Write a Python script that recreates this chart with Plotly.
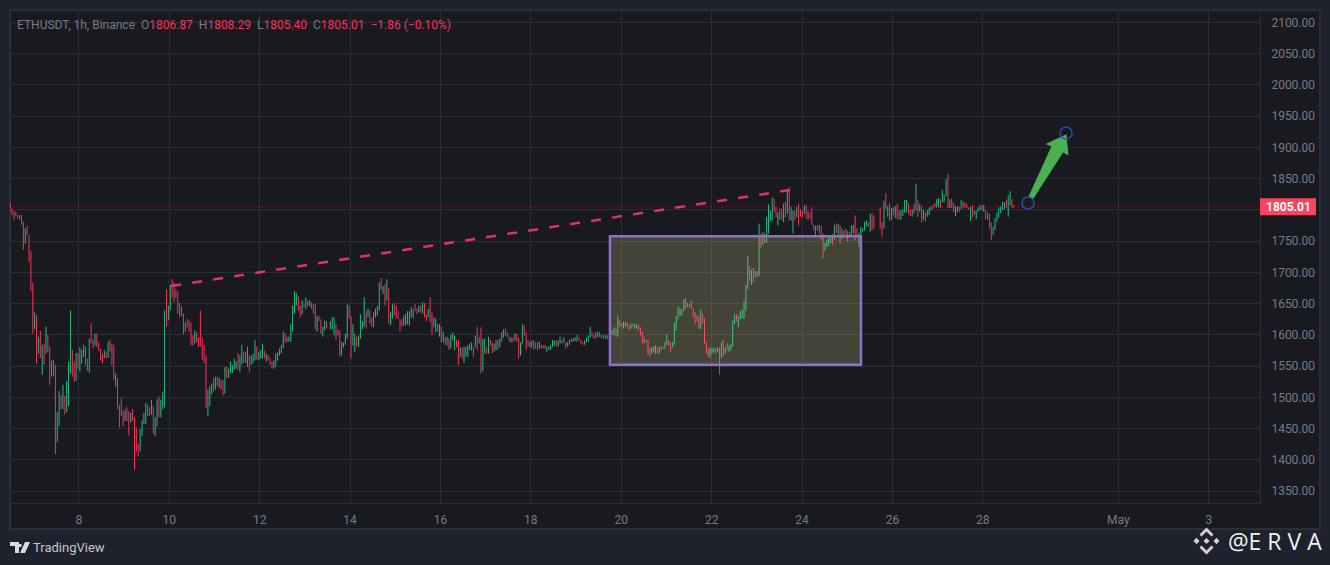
import pandas as pd
import plotly.graph_objects as go

# ---- price data (hourly bars, four stretches) ----
start_a = "2025-04-06 11:30"
highs_a = [1813,1802,1798,1797,1792,1792,1792,1781,1771,1775,
1760,1734,1684,1636,1631,1597,1607,1584,1586,1613,
1600,1581,1559,1560,1552,1476,1510,1504,1520,1502,
1526,1557,1639,1576,1557,1571,1571,1580,1576,1584,
1581,1562,1594,1618,1592,1602,1602,1588,1578,1570,
1575,1573,1589,1592,1586,1584,1538,1531,1488,1499,
1478,1481,1484,1478,1475,1481,1468,1452,1425,1449,
1463,1475,1491,1488,1484,1496,1486,1468,1497,1501,
1496,1509,1639,1673,1647,1680,1689,1684,1673,1670,
1651,1646,1634,1620,1626,1623,1620,1599,1607,1605,
1596,1639,1596,1584,1567,1512,1518,1522,1531,1533,
1533,1531,1528,1528,1548,1549,1546,1557,1552,1562,
1557,1571,1567,1584,1573,1573,1581,1567,1567,1570,
1591,1581,1572,1575,1586,1575,1570,1568,1563,1557,
1559,1570,1572,1578,1584,1605,1602,1597,1597,1617,
1647,1670,1667,1662,1647,1655,1650,1660,1655,1655,
1652,1649,1649,1630,1630,1625,1613,1623,1622]
lows_a = [1797,1792,1784,1790,1786,1784,1776,1736,1746,1759,
1717,1670,1602,1609,1554,1570,1563,1536,1552,1570,
1572,1520,1533,1534,1409,1428,1454,1481,1481,1473,
1476,1486,1538,1533,1525,1526,1546,1541,1554,1565,
1551,1542,1539,1586,1578,1583,1581,1575,1559,1554,
1563,1563,1563,1573,1551,1528,1517,1481,1452,1470,
1454,1462,1462,1439,1460,1462,1383,1413,1405,1413,
1438,1457,1457,1470,1470,1472,1442,1438,1454,1468,
1468,1481,1484,1613,1623,1639,1660,1652,1659,1634,
1628,1630,1601,1605,1612,1605,1583,1583,1586,1588,
1581,1581,1560,1555,1483,1470,1486,1505,1509,1512,
1518,1515,1512,1503,1506,1531,1531,1539,1539,1544,
1546,1544,1541,1552,1555,1555,1549,1541,1552,1555,
1559,1560,1560,1562,1562,1562,1557,1559,1552,1546,
1546,1549,1559,1567,1570,1579,1588,1588,1589,1589,
1605,1634,1647,1638,1628,1633,1644,1641,1646,1646,
1642,1634,1609,1605,1622,1602,1597,1607,1610]
dirs_a = ("ddddddddud" "dddudududu" "ddudduudud" "uuudduduuu" "dduddudddd" "ududdduddd"
          "dudduddddu" "uuudduduud" "uuuduudddd" "ddduddddud" "ddddduuudu"
          "dudduduuuu" "uduudduduu" "uduuududdd" "uuuuuudduu" "uuuddududu" "dddudduud")

start_b = "2025-04-13 13:30"
highs_b = [1622,1628,1628,1618,1609,1607,1589,1588,1602,1649,
1647,1630,1617,1602,1597,1599,1633,1622,1660,1638,
1642,1639,1628,1636,1642,1646,1684,1691,1678,1681,
1689,1675,1636,1649,1651,1647,1638,1625,1625,1631,
1634,1638,1638,1644,1641,1649,1642,1647,1647,1652,
1651,1633,1642,1660,1636,1628,1626,1618,1617,1613,
1605,1597,1597,1594,1600,1604,1599,1592,1592,1580,
1579,1581,1581,1583,1586,1588,1581,1599,1613,1596,
1612,1594,1594,1580,1597,1592,1588,1586,1592,1592,
1594,1604,1609,1610,1604,1597,1596,1596,1603,1601,
1596,1588,1617,1615,1604,1592,1589,1591,1591,1588,1588,
1589,1584,1584,1584,1581,1581,1584,1592,1591,1591,1591,
1597,1592,1596,1589,1588,1592,1594,1594,1596,1600,1596,
1592,1589,1591,1596,1599,1613,1605,1600,1604,1605,
1605,1600,1599,1600,1599]
lows_b = [1609,1609,1599,1592,1599,1565,1567,1580,1584,1594,
1626,1562,1583,1572,1581,1581,1594,1609,1613,1610,
1628,1618,1613,1612,1628,1631,1639,1672,1665,1647,
1655,1618,1615,1626,1631,1626,1625,1605,1613,1615,
1615,1617,1615,1628,1626,1638,1633,1636,1636,1634,
1628,1622,1628,1620,1600,1612,1604,1605,1597,1588,
1588,1584,1583,1576,1578,1591,1576,1580,1551,1565,
1562,1555,1565,1565,1575,1575,1565,1580,1575,1586,
1538,1542,1570,1570,1570,1583,1571,1573,1575,1576,
1580,1589,1596,1599,1596,1589,1588,1588,1591,1589,
1562,1567,1586,1599,1576,1582,1580,1580,1576,1578,1576,
1578,1578,1578,1578,1573,1576,1576,1581,1583,1581,1581,
1586,1586,1588,1578,1581,1584,1589,1589,1590,1589,1591,
1586,1584,1584,1588,1589,1596,1597,1594,1594,1597,
1596,1594,1594,1594,1593]
dirs_b = ("uuuddduuuu" "dduuduuuud" "udduuuudud" "uduudddddu" "uuuuuddudu"
          "ddudduudud" "ududuuuddu" "duuuuududu" "duududduud" "uuudddudud"
          "duuddduuddd" "uddduuuuudu" "ududuuuuuud" "dduuuudduu" "ddduu")

start_c = "2025-04-19 18:12"
highs_c = [1607,1607,1612,1610,1631,1623,1618,1621,1621,1620,
1615,1618,1618,1617,1617,1615,1612,1605,1597,1592,
1592,1580,1580,1581,1583,1580,1581,1581,1581,1588,
1601,1591,1588,1588,1620,1630,1646,1642,1641,1657,
1659,1651,1649,1655,1642,1636,1631,1630,1641,1634,
1626,1589,1578,1580,1578,1580,1578,1580,1580,1588,
1592,1580,1587,1583,1585,1623,1634,1633,1630,1638,
1640,1654,1680,1726,1710,1704,1707,1702,1702,1778,
1762,1765,1763,1789,1809,1799,1820,1818,1805,1796,
1802,1802,1810,1813,1833,1836,1805,1799,1799,1805,
1810,1801,1799,1807,1809,1799,1796,1804,1776,1775,
1776,1776,1775,1762,1747,1752,1759,1759,1762,1776,
1778,1778,1775,1770,1767,1770,1767,1765,1775,1776,
1791,1771,1763,1773,1771,1781,1783,1780,1794,1794,1791]
lows_c = [1594,1600,1600,1597,1597,1613,1612,1610,1613,1612,
1607,1610,1613,1609,1610,1607,1599,1586,1586,1588,
1568,1565,1570,1572,1570,1570,1570,1575,1578,1578,
1584,1583,1573,1580,1584,1607,1625,1631,1631,1638,
1641,1644,1644,1641,1628,1617,1621,1610,1609,1618,
1586,1570,1565,1563,1570,1572,1570,1572,1536,1563,
1566,1570,1576,1573,1575,1581,1617,1621,1612,1625,
1626,1626,1638,1673,1686,1680,1684,1692,1692,1694,
1739,1744,1747,1747,1762,1781,1783,1796,1788,1775,
1784,1784,1780,1788,1794,1783,1783,1762,1783,1788,
1775,1789,1788,1794,1786,1784,1786,1776,1767,1760,
1767,1762,1752,1723,1734,1741,1742,1747,1744,1752,
1763,1760,1746,1754,1757,1757,1749,1757,1759,1762,
1751,1757,1741,1759,1765,1767,1773,1773,1765,1768,1770]
dirs_c = ("uuududduud" "duduuddddu" "dduuududuu" "udduuuuuuu" "ddudddddud"
          "ddduuududu" "duduuuuduu" "uuuudududu" "duduuuuddu" "ddududuudu"
          "dddudddddu" "dddduuuudu" "dududddduu" "dduuuuududd")

start_d = "2025-04-25 17:30"
highs_d = [1804,1781,1815,1827,1806,1811,1803,1804,1806,1810,
1800,1799,1801,1816,1816,1811,1801,1801,1810,1842,
1816,1810,1806,1800,1796,1800,1804,1805,1808,1811,
1817,1819,1817,1832,1824,1849,1858,1817,1818,1811,
1806,1806,1805,1816,1813,1812,1810,1804,1805,1808,
1799,1799,1804,1808,1808,1808,1800,1796,1794,1780,
1773,1787,1796,1804,1806,1813,1812,1816,1824,1830,
1817,1808]
lows_d = [1770,1757,1770,1801,1789,1782,1784,1792,1787,1785,
1785,1784,1790,1795,1797,1793,1790,1789,1794,1799,
1789,1797,1780,1784,1781,1789,1792,1799,1801,1804,
1804,1804,1803,1812,1813,1822,1803,1803,1803,1797,
1790,1796,1797,1801,1804,1803,1803,1800,1782,1788,
1792,1785,1797,1799,1799,1797,1785,1784,1770,1752,
1760,1768,1781,1787,1795,1800,1801,1803,1789,1808,
1803,1804]
dirs_d = ("ddudududud" "duuuuddudu" "dududuuudd" "uuduuududd" "uuduudddud"
          "uuuududddd" "uuuuuuuduu" "dd")

# ---- annotation values ----
last_price = 1805.01
trend_times = ["2025-04-10 01:00", "2025-04-23 18:00"]
trend_prices = [1678, 1832]
box_times = ["2025-04-19 18:00", "2025-04-25 07:18"]
box_prices = [1552, 1758]
circle_hours = [504, 524.2]
circle_prices = [1811, 1923]
arrow_hours = [504.5, 516.7, 513.9, 524.2, 525.2, 522.6, 506.6, 504.5]
arrow_prices = [1821, 1902, 1905.5, 1920, 1888, 1893, 1818, 1821]

price_ticks = [1350,1400,1450,1500,1550,1600,1650,1700,1750,1800,1850,1900,1950,2000,2050,2100]
# the 1800.00 label sits under the last-price tag in the reference
price_labels = ["1350.00","1400.00","1450.00","1500.00","1550.00","1600.00","1650.00","1700.00","1750.00","",
                "1850.00","1900.00","1950.00","2000.00","2050.00","2100.00"]
time_ticks = ["2025-04-08","2025-04-10","2025-04-12","2025-04-14","2025-04-16","2025-04-18",
              "2025-04-20","2025-04-22","2025-04-24","2025-04-26","2025-04-28","2025-05-01","2025-05-03"]
time_labels = ["8","10","12","14","16","18","20","22","24","26","28","May","3"]
x_range = ["2025-04-06 11:24", "2025-05-04 03:12"]
y_range = [1330.8, 2120]

BG = "#1e222d"; PANEL = "#181a20"; GRID = "#2a2e39"; TXT = "#787b86"
RED = "#f7335a"; GREEN = "#1fbd85"

L, R, T, B = 10, 1260, 10, 503
def px(x): return (x - L) / (R - L)
def py(y): return (B - y) / (B - T)

times, opens, highs, lows, closes = [], [], [], [], []
for st, hi, lo, dr in [(start_a, highs_a, lows_a, dirs_a), (start_b, highs_b, lows_b, dirs_b),
                       (start_c, highs_c, lows_c, dirs_c), (start_d, highs_d, lows_d, dirs_d)]:
    dr = dr.ljust(len(hi), "u")
    ts = pd.date_range(st, periods=len(hi), freq="h")
    for t, h, l, d in zip(ts, hi, lo, dr):
        times.append(t); highs.append(h); lows.append(l)
        opens.append(l if d == "u" else h)
        closes.append(h if d == "u" else l)

base = pd.Timestamp("2025-04-08")
to_time = lambda hrs: [base + pd.Timedelta(hours=h) for h in hrs]

fig = go.Figure()
fig.add_trace(go.Ohlc(x=times, open=opens, high=highs, low=lows, close=closes, tickwidth=0,
                      increasing=dict(line=dict(color=GREEN, width=1)),
                      decreasing=dict(line=dict(color=RED, width=1)), showlegend=False))
fig.add_trace(go.Scatter(x=trend_times, y=trend_prices, mode="lines",
                         line=dict(color="#dd375a", width=2.5, dash="10px,11.25px"), showlegend=False))
fig.add_trace(go.Scatter(x=to_time(arrow_hours), y=arrow_prices, mode="lines", fill="toself",
                         fillcolor="#4caf50", line=dict(color="#4caf50", width=1), showlegend=False))
fig.add_trace(go.Scatter(x=to_time(circle_hours), y=circle_prices, mode="markers",
                         marker=dict(size=12, color="rgba(0,0,0,0)", line=dict(color="#2a4ea6", width=1.5)),
                         showlegend=False))

shapes = [
    dict(type="rect", xref="paper", yref="paper", x0=px(10), x1=px(1320), y0=py(529), y1=py(10),
         fillcolor=PANEL, line=dict(color=GRID, width=2), layer="below"),
    dict(type="line", xref="paper", yref="y", x0=0, x1=1, y0=last_price, y1=last_price,
         line=dict(color="rgba(247,51,90,0.55)", width=1, dash="1px,3px"), layer="above"),
    dict(type="rect", xref="x", yref="y", x0=box_times[0], x1=box_times[1], y0=box_prices[0], y1=box_prices[1],
         fillcolor="rgba(216,205,140,0.23)", line=dict(color="#8e72c8", width=2.5), layer="above"),
    dict(type="rect", xref="paper", yref="y", x0=px(1260), x1=px(1316),
         y0=last_price - 13.6, y1=last_price + 13.6, fillcolor="#f7445f", line_width=0, layer="above"),
]

def poly(pts, color):
    p = "M " + " L ".join(f"{px(x):.5f},{py(y):.5f}" for x, y in pts) + " Z"
    return dict(type="path", xref="paper", yref="paper", path=p, fillcolor=color, line_width=0, layer="above")

# TradingView mark
shapes += [poly([(10,542),(19,542),(19,553),(15,553),(15,546),(10,546)], "#d8dade"),
           poly([(25,542),(30,542),(25,553),(20,553)], "#d8dade"),
           poly([(18.5,544),(21.5,544),(21.5,547),(18.5,547)], "#d8dade")]
# exchange mark
LOGO = "#dccfd4"
cx, cy = 1206.5, 541
shapes += [poly([(cx,cy-3),(cx+3,cy),(cx,cy+3),(cx-3,cy)], LOGO),
           poly([(cx-10,cy-3.2),(cx-7,cy),(cx-10,cy+3.2),(cx-13,cy)], LOGO),
           poly([(cx+10,cy-3.2),(cx+13,cy),(cx+10,cy+3.2),(cx+7,cy)], LOGO),
           poly([(cx,cy-13.5),(cx+7,cy-6.5),(cx+5,cy-4.5),(cx,cy-9.5),(cx-5,cy-4.5),(cx-7,cy-6.5)], LOGO),
           poly([(cx,cy+13.5),(cx+7,cy+6.5),(cx+5,cy+4.5),(cx,cy+9.5),(cx-5,cy+4.5),(cx-7,cy+6.5)], LOGO)]

sp = lambda t, c: f'<span style="color:{c}">{t}</span>'
header = (sp("ETHUSDT, 1h, Binance&nbsp;&nbsp;O", TXT) + sp("1806.87", RED) + sp("&nbsp;&nbsp;H", TXT) + sp("1808.29", RED)
          + sp("&nbsp;&nbsp;L", TXT) + sp("1805.40", RED) + sp("&nbsp;&nbsp;C", TXT) + sp("1805.01", RED)
          + sp("&nbsp;&nbsp;−1.86 (−0.10%)", RED))

annotations = [
    dict(xref="paper", yref="paper", x=px(15), y=py(24.5), text=header, showarrow=False, xanchor="left",
         yanchor="middle", font=dict(size=12, color=TXT)),
    dict(xref="paper", yref="y", x=px(1288), y=last_price, text="<b>1805.01</b>", showarrow=False,
         xanchor="center", yanchor="middle", font=dict(size=12, color="#ffffff")),
    dict(xref="paper", yref="paper", x=px(31), y=py(547), text="TradingView", showarrow=False, xanchor="left",
         yanchor="middle", font=dict(size=13, color="#c4c7ce")),
    dict(xref="paper", yref="paper", x=px(1226), y=py(541), text="@E R V A", showarrow=False, xanchor="left",
         yanchor="middle", font=dict(size=23, color="#f2f2f2", family="Open Sans")),
]

fig.update_layout(
    width=1330, height=565, margin=dict(l=L, r=1330 - R, t=T, b=565 - B),
    paper_bgcolor=BG, plot_bgcolor=PANEL, showlegend=False,
    font=dict(family="Roboto, Noto Sans, sans-serif", size=12, color=TXT),
    shapes=shapes, annotations=annotations, hovermode=False,
    xaxis=dict(type="date", range=x_range, tickmode="array", tickvals=time_ticks, ticktext=time_labels,
               rangeslider=dict(visible=False), showgrid=True, gridcolor=GRID, gridwidth=1, zeroline=False,
               showline=True, linecolor=GRID, linewidth=1, ticks="", ticklabelstandoff=6,
               tickfont=dict(size=12, color=TXT)),
    yaxis=dict(range=y_range, side="right", tickmode="array", tickvals=price_ticks,
               ticktext=price_labels, showgrid=True, gridcolor=GRID, gridwidth=1,
               zeroline=False, showline=True, linecolor=GRID, linewidth=1, ticks="", ticklabelstandoff=8,
               tickfont=dict(size=12, color=TXT)),
)
fig.write_html("out.html", config=dict(displayModeBar=False),
               post_script="document.body.style.margin='0';document.body.style.background='#1e222d';document.body.style.overflow='hidden';")
